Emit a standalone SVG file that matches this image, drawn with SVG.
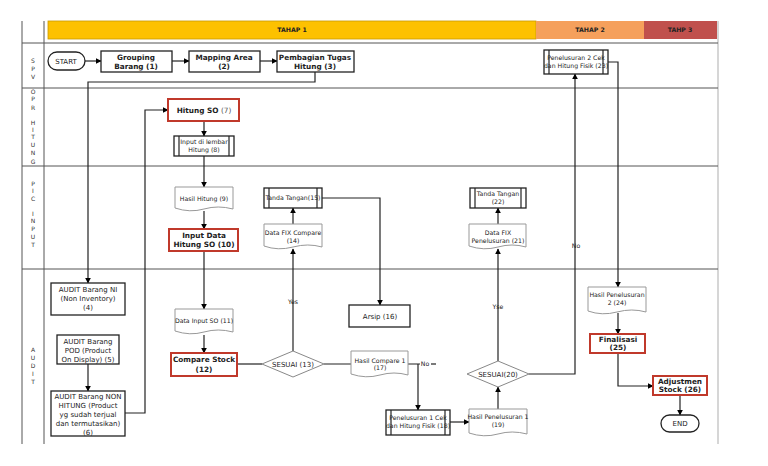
<svg xmlns="http://www.w3.org/2000/svg" width="768" height="466" viewBox="0 0 768 466">
<defs>
<marker id="ar" viewBox="0 0 10 10" refX="9" refY="5" markerWidth="5" markerHeight="5" orient="auto"><path d="M0,0L10,5L0,10z" fill="#000"/></marker>
<style>
text{font-family:"DejaVu Sans",Verdana,sans-serif;fill:#222;text-anchor:middle}
.t{font-size:7px}
.b{font-size:7.3px;font-weight:bold}
.s{font-size:6.2px}
.l{font-size:6px;fill:#333}
.box{fill:#fff;stroke:#222;stroke-width:1.3}
.red{fill:#fff;stroke:#c0392b;stroke-width:2}
.doc{fill:#fff;stroke:#999;stroke-width:1}
.c{fill:none;stroke:#222;stroke-width:1.2}
.ca{fill:none;stroke:#222;stroke-width:1.2;marker-end:url(#ar)}
.lane{stroke:#555;stroke-width:1;fill:none}
</style>
</defs>
<rect width="768" height="466" fill="#fff"/>
<g id="frame">
<line class="lane" x1="22" y1="21" x2="22" y2="444"/>
<line class="lane" x1="44" y1="21" x2="44" y2="444"/>
<line x1="718" y1="21" x2="718" y2="444" stroke="#bbb" stroke-width="1.2"/>
<line class="lane" x1="22" y1="43" x2="718" y2="43" stroke-width="1.5"/>
<line class="lane" x1="22" y1="88" x2="718" y2="88"/>
<line class="lane" x1="22" y1="166" x2="718" y2="166"/>
<line class="lane" x1="22" y1="269" x2="718" y2="269"/>
<rect x="48" y="21" width="488" height="18" fill="#fdc100" stroke="#c99a00" stroke-width="0.8"/>
<rect x="536" y="21" width="108" height="18" fill="#f5a05c"/>
<rect x="644" y="21" width="73" height="18" fill="#c0504d"/>
<text class="s" x="292" y="32" font-weight="bold">TAHAP 1</text>
<text class="s" x="590" y="32" font-weight="bold">TAHAP 2</text>
<text class="s" x="680" y="32" font-weight="bold">TAHP 3</text>
<text class="l" x="33" y="63">S</text><text class="l" x="33" y="71">P</text><text class="l" x="33" y="79">V</text>
<text class="l" x="33" y="94">O</text><text class="l" x="33" y="101">P</text><text class="l" x="33" y="110">R</text>
<text class="l" x="33" y="125">H</text><text class="l" x="33" y="132">I</text><text class="l" x="33" y="139">T</text><text class="l" x="33" y="147">U</text><text class="l" x="33" y="155">N</text><text class="l" x="33" y="164">G</text>
<text class="l" x="33" y="186">P</text><text class="l" x="33" y="193">I</text><text class="l" x="33" y="201">C</text>
<text class="l" x="33" y="216">I</text><text class="l" x="33" y="223">N</text><text class="l" x="33" y="231">P</text><text class="l" x="33" y="239">U</text><text class="l" x="33" y="247">T</text>
<text class="l" x="33" y="352">A</text><text class="l" x="33" y="360">U</text><text class="l" x="33" y="368">D</text><text class="l" x="33" y="376">I</text><text class="l" x="33" y="384">T</text>
</g>
<g id="connectors">
<line class="ca" x1="85" y1="61" x2="101" y2="61"/>
<line class="ca" x1="172" y1="61" x2="189" y2="61"/>
<line class="ca" x1="260" y1="61" x2="277" y2="61"/>
<polyline class="ca" points="315,72 315,82 88,82 88,283"/>
<line class="ca" x1="88" y1="364" x2="88" y2="391"/>
<polyline class="ca" points="125,413 145,413 145,110 168,110"/>
<line class="ca" x1="204" y1="121" x2="204" y2="136"/>
<line class="ca" x1="204" y1="156" x2="204" y2="187"/>
<line class="ca" x1="204" y1="211" x2="204" y2="229"/>
<line class="ca" x1="204" y1="251" x2="204" y2="309"/>
<line class="ca" x1="204" y1="335" x2="204" y2="353"/>
<line class="c" x1="237" y1="364" x2="262" y2="364"/>
<line class="c" x1="324" y1="364" x2="420" y2="364"/>
<line class="c" x1="431" y1="364" x2="436" y2="364"/>
<line class="ca" x1="360" y1="364" x2="352" y2="364"/>
<polyline class="ca" points="418,364 418,410"/>
<line class="ca" x1="293" y1="351" x2="293" y2="249"/>
<line class="ca" x1="293" y1="224" x2="293" y2="208"/>
<polyline class="ca" points="322,198 380,198 380,305"/>
<line class="ca" x1="450" y1="422" x2="469" y2="422"/>
<line class="ca" x1="498" y1="409" x2="498" y2="387"/>
<line class="ca" x1="498" y1="361" x2="498" y2="249"/>
<line class="ca" x1="498" y1="224" x2="498" y2="208"/>
<polyline class="ca" points="529,374 575,374 575,74"/>
<polyline class="ca" points="608,62 618,62 618,287"/>
<line class="ca" x1="618" y1="313" x2="618" y2="334"/>
<polyline class="ca" points="618,353 618,386 653,386"/>
<line class="ca" x1="680" y1="395" x2="680" y2="415"/>
<text class="s" x="293" y="304">Yes</text>
<text class="s" x="498" y="309">Yse</text>
<text class="s" x="576" y="248">No</text>
<text class="s" x="425" y="366">No</text>
</g>
<g id="n-start"><rect class="box" x="48" y="52" width="37" height="18" rx="9" stroke-width="0.9"/><text class="t" x="66" y="64">START</text></g>
<g id="n1"><rect class="box" x="101" y="51" width="71" height="21"/><text class="b" x="136" y="60">Grouping</text><text class="b" x="136" y="69">Barang (1)</text></g>
<g id="n2"><rect class="box" x="189" y="51" width="71" height="21"/><text class="b" x="224" y="60">Mapping Area</text><text class="b" x="224" y="69">(2)</text></g>
<g id="n3"><rect class="box" x="277" y="51" width="77" height="21"/><text class="b" x="315" y="60">Pembagian Tugas</text><text class="b" x="315" y="69">Hitung (3)</text></g>
<g id="n23"><rect class="box" x="544" y="50" width="64" height="24"/><line class="c" x1="549" y1="50" x2="549" y2="74"/><line class="c" x1="603" y1="50" x2="603" y2="74"/><text class="s" x="576" y="60">Penelusuran 2 Cek</text><text class="s" x="576" y="68">dan Hitung Fisik (23)</text></g>
<g id="n7"><rect class="red" x="168" y="99" width="71" height="22"/><text class="b" x="204" y="113">Hitung SO <tspan font-weight="normal" fill="#555">(7)</tspan></text></g>
<g id="n8"><rect class="box" x="174" y="136" width="60" height="20"/><line class="c" x1="179" y1="136" x2="179" y2="156"/><line class="c" x1="229" y1="136" x2="229" y2="156"/><text class="s" x="204" y="144">Input di lembar</text><text class="s" x="204" y="152">Hitung (8)</text></g>
<g id="n9"><path class="doc" stroke="#333" d="M175,187H233V209Q218,205 204,209T175,208Z"/><text class="s" x="204" y="201">Hasil Hitung (9)</text></g>
<g id="n10"><rect class="red" x="169" y="229" width="69" height="22"/><text class="b" x="204" y="238">Input Data</text><text class="b" x="204" y="247">Hitung SO (10)</text></g>
<g id="n15"><rect class="box" x="264" y="188" width="58" height="20"/><line class="c" x1="269" y1="188" x2="269" y2="208"/><line class="c" x1="317" y1="188" x2="317" y2="208"/><text class="s" x="293" y="200">Tanda Tangan(15)</text></g>
<g id="n14"><path class="doc" d="M264,224H322V247Q308,243 293,247T264,246Z"/><text class="s" x="293" y="235">Data FIX Compare</text><text class="s" x="293" y="243">(14)</text></g>
<g id="n22"><rect class="box" x="470" y="188" width="56" height="20"/><line class="c" x1="475" y1="188" x2="475" y2="208"/><line class="c" x1="521" y1="188" x2="521" y2="208"/><text class="s" x="498" y="196">Tanda Tangan</text><text class="s" x="498" y="204">(22)</text></g>
<g id="n21"><path class="doc" d="M469,224H526V247Q512,243 498,247T469,246Z"/><text class="s" x="498" y="235">Data FIX</text><text class="s" x="498" y="243">Penelusuran (21)</text></g>
<g id="n4"><rect class="box" x="51" y="283" width="74" height="32"/><text class="t" x="88" y="292">AUDIT Barang NI</text><text class="t" x="88" y="301">(Non Inventory)</text><text class="t" x="88" y="310">(4)</text></g>
<g id="n5"><rect class="box" x="57" y="335" width="62" height="29"/><text class="t" x="88" y="344">AUDIT Barang</text><text class="t" x="88" y="353">POD (Product</text><text class="t" x="88" y="362">On Display) (5)</text></g>
<g id="n6"><rect class="box" x="51" y="391" width="74" height="45"/><text class="t" x="88" y="399">AUDIT Barang NON</text><text class="t" x="88" y="408">HITUNG (Product</text><text class="t" x="88" y="417">yg sudah terjual</text><text class="t" x="88" y="426">dan termutasikan)</text><text class="t" x="88" y="435">(6)</text></g>
<g id="n11"><path class="doc" stroke="#333" d="M175,309H233V332Q218,328 204,332T175,331Z"/><text class="s" x="204" y="323">Data Input SO (11)</text></g>
<g id="n12"><rect class="red" x="171" y="353" width="66" height="23"/><text class="b" x="204" y="362">Compare Stock</text><text class="b" x="204" y="372">(12)</text></g>
<g id="n13"><polygon fill="#fff" stroke="#888" points="262,364 293,351 324,364 293,377"/><text class="t" x="293" y="367" fill="#666">SESUAI (13)</text></g>
<g id="n16"><rect class="box" x="349" y="305" width="61" height="22"/><text class="t" x="380" y="319">Arsip (16)</text></g>
<g id="n17"><path class="doc" d="M351,351H408V375Q394,371 380,375T351,374Z"/><text class="s" x="380" y="363">Hasil Compare 1</text><text class="s" x="380" y="370">(17)</text></g>
<g id="n18"><rect class="box" x="386" y="410" width="64" height="25"/><line class="c" x1="391" y1="410" x2="391" y2="435"/><line class="c" x1="445" y1="410" x2="445" y2="435"/><text class="s" x="418" y="420">Penelusuran 1 Cek</text><text class="s" x="418" y="428">dan Hitung Fisik (18)</text></g>
<g id="n19"><path class="doc" d="M469,409H527V434Q512,430 498,434T469,433Z"/><text class="s" x="498" y="419" font-size="5.6">Hasil Penelusuran 1</text><text class="s" x="498" y="427">(19)</text></g>
<g id="n20"><polygon fill="#fff" stroke="#888" points="467,374 498,361 529,374 498,387"/><text class="t" x="498" y="377" fill="#666">SESUAI(20)</text></g>
<g id="n24"><path class="doc" stroke="#666" d="M588,287H646V312Q632,308 617,312T588,311Z"/><text class="s" x="617" y="297">Hasil Penelusuran</text><text class="s" x="617" y="305">2 (24)</text></g>
<g id="n25"><rect class="red" x="590" y="334" width="55" height="19"/><text class="b" x="618" y="342">Finalisasi</text><text class="b" x="618" y="350">(25)</text></g>
<g id="n26"><rect class="red" x="653" y="376" width="54" height="19"/><text class="b" x="680" y="384">Adjustmen</text><text class="b" x="680" y="392">Stock (26)</text></g>
<g id="n-end"><rect class="box" x="661" y="415" width="38" height="17" rx="8.5" stroke-width="0.9"/><text class="t" x="680" y="426" fill="#555">END</text></g>
</svg>
